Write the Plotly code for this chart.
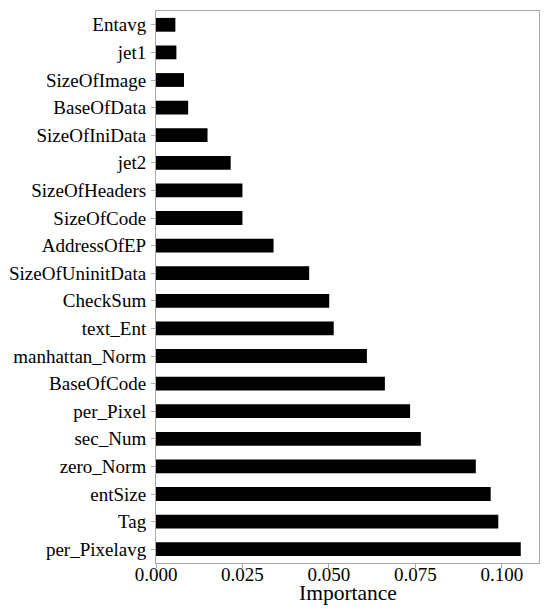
import plotly.graph_objects as go

# feature importances, top of chart first
features = [
    "Entavg", "jet1", "SizeOfImage", "BaseOfData", "SizeOfIniData", "jet2",
    "SizeOfHeaders", "SizeOfCode", "AddressOfEP", "SizeOfUninitData",
    "CheckSum", "text_Ent", "manhattan_Norm", "BaseOfCode", "per_Pixel",
    "sec_Num", "zero_Norm", "entSize", "Tag", "per_Pixelavg",
]
importance = [
    0.0056, 0.0059, 0.0081, 0.0093, 0.0149, 0.0216,
    0.0250, 0.0250, 0.0340, 0.0443,
    0.0501, 0.0514, 0.0610, 0.0662, 0.0735,
    0.0766, 0.0925, 0.0968, 0.0990, 0.1055,
]
x_ticks = [0.0, 0.025, 0.05, 0.075, 0.1]
x_ticklabels = ["0.000", "0.025", "0.050", "0.075", "0.100"]

SERIF = "Liberation Serif"

fig = go.Figure(go.Bar(
    x=importance,
    y=features,
    orientation="h",
    width=0.5,
    marker=dict(color="black", line=dict(width=0)),
))

axis_style = dict(
    showline=True, linecolor="#aaaaaa", linewidth=1, mirror=True,
    showgrid=False, zeroline=False, automargin=False,
    ticks="outside", ticklen=4, tickcolor="#aaaaaa",
    tickfont=dict(family=SERIF, size=19, color="black"),
)

# the page body adds ~8px offset, so margins are shifted to compensate
fig.update_layout(
    width=550, height=614,
    margin=dict(l=148, r=19, t=3, b=59),
    plot_bgcolor="white", paper_bgcolor="white",
    showlegend=False,
    xaxis=dict(
        range=[0, max(importance) * 1.05],
        tickvals=x_ticks, ticktext=x_ticklabels,
        ticklabelstandoff=-10,
        **axis_style,
    ),
    yaxis=dict(
        autorange="reversed",
        range=[len(features) - 0.5, -0.5],
        ticklabelstandoff=1,
        **axis_style,
    ),
    annotations=[dict(
        text="Importance", xref="paper", yref="paper",
        x=0.5, y=0, xanchor="center", yanchor="middle", yshift=-30,
        showarrow=False,
        font=dict(family=SERIF, size=21.5, color="black"),
    )],
)

fig.write_html("out.html")
